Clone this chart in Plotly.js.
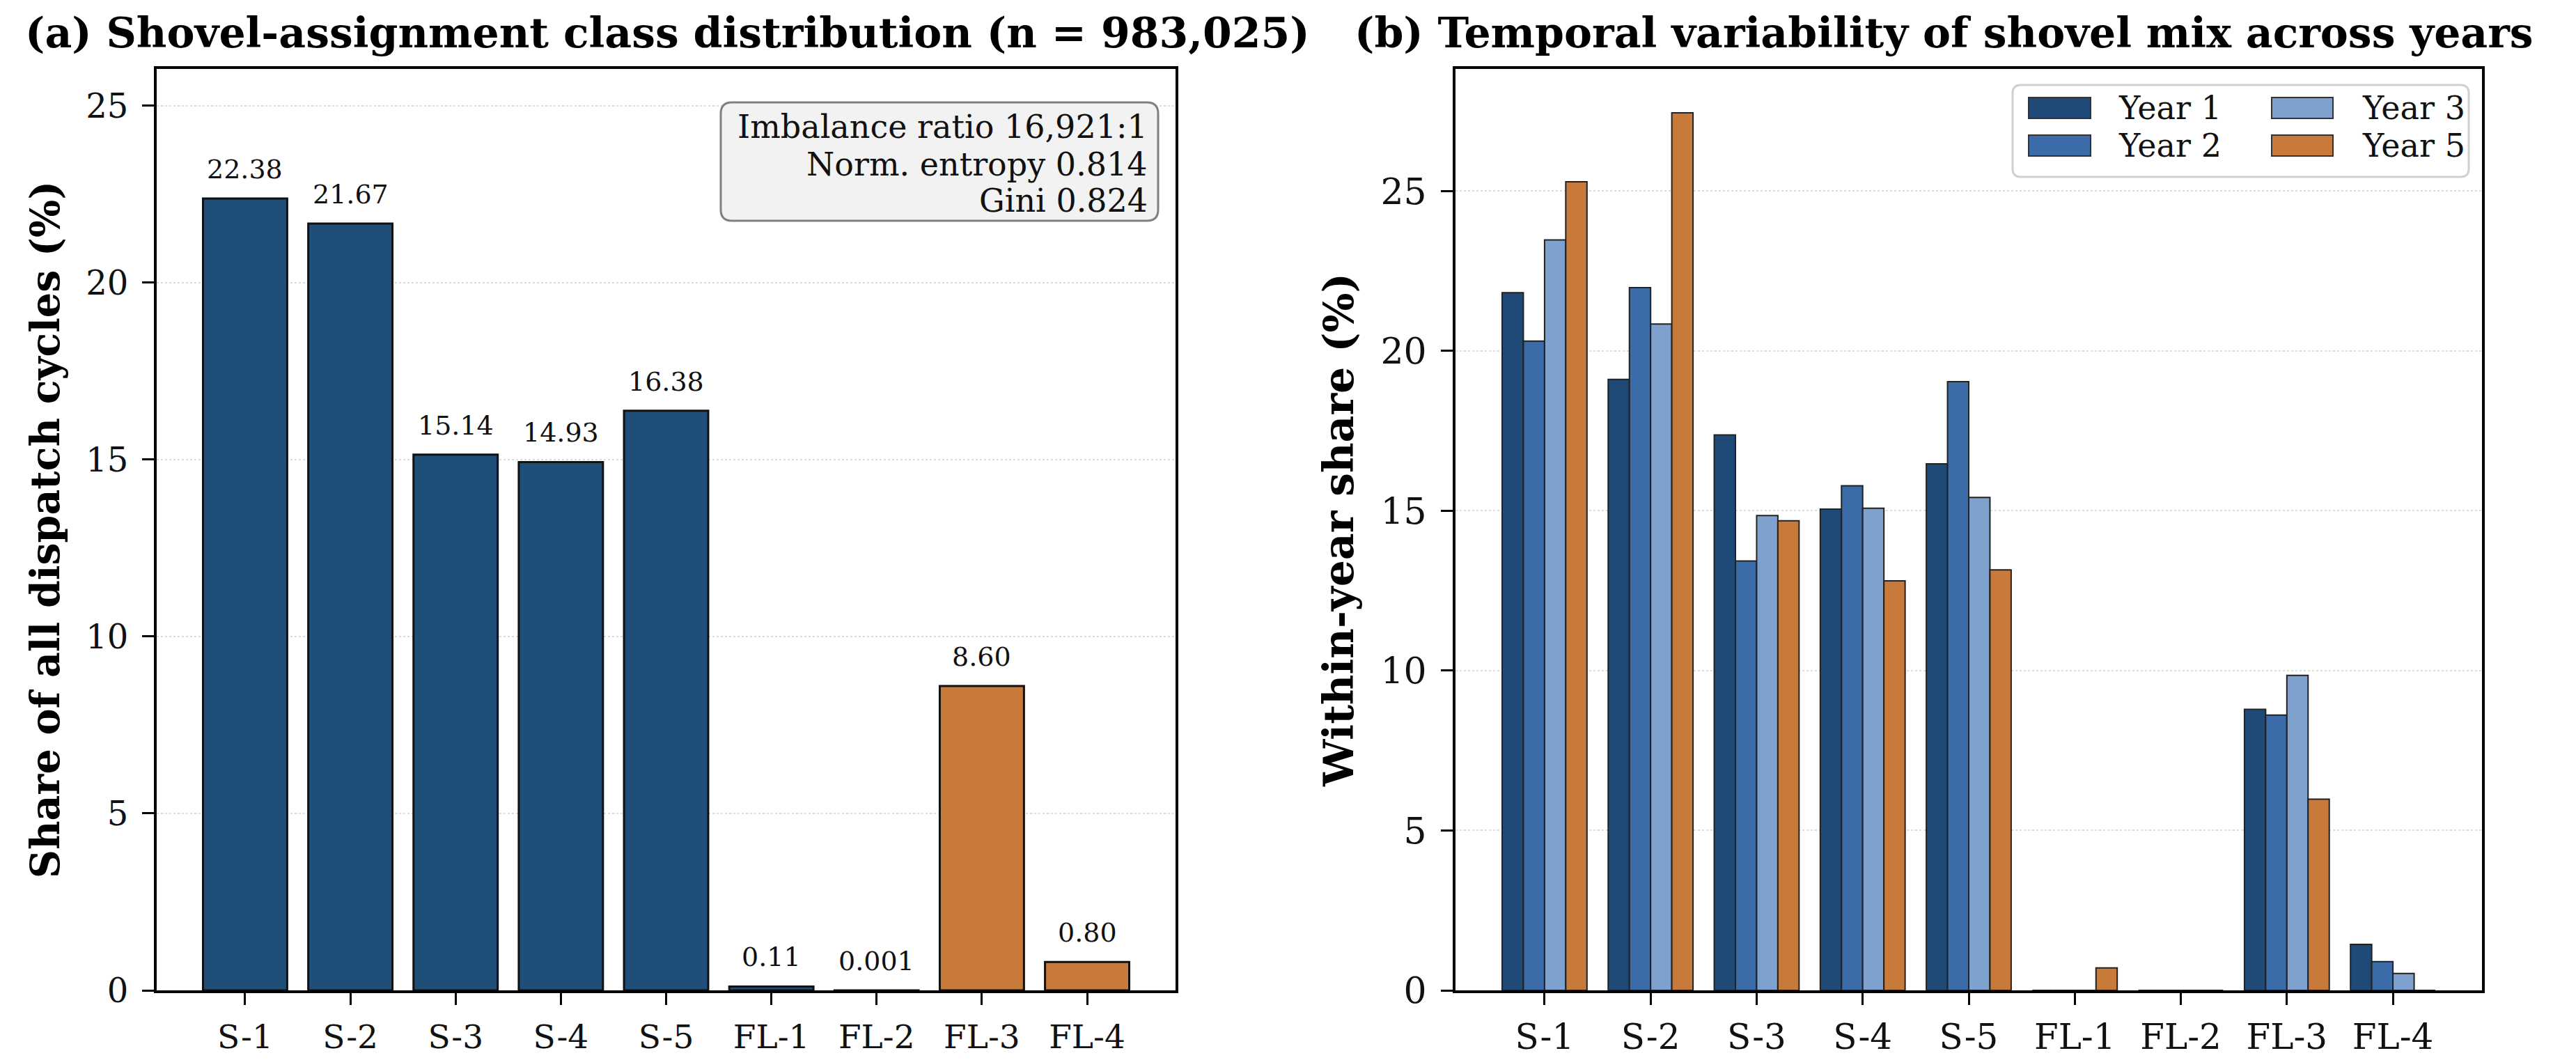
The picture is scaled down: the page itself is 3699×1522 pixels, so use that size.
<!DOCTYPE html>
<html>
<head>
<meta charset="utf-8">
<script src="https://cdn.plot.ly/plotly-3.0.1.min.js"></script>
<style>html,body{margin:0;padding:0;background:#fff;}#chart{width:3699px;height:1522px;}</style>
</head>
<body>
<div id="chart"></div>
<script>
// ---------- data ----------
const categories = ['S-1','S-2','S-3','S-4','S-5','FL-1','FL-2','FL-3','FL-4'];
const overallShare = [22.38, 21.67, 15.14, 14.93, 16.38, 0.11, 0.001, 8.60, 0.80];
const overallLabels = ['22.38','21.67','15.14','14.93','16.38','0.11','0.001','8.60','0.80'];
const highlightedClasses = ['FL-3','FL-4'];
const yearNames = ['Year 1','Year 2','Year 3','Year 5'];
const year1 = [21.82, 19.11, 17.37, 15.05, 16.47, 0, 0, 8.79, 1.44];
const year2 = [20.31, 21.98, 13.43, 15.78, 19.04, 0, 0, 8.61, 0.90];
const year3 = [23.47, 20.84, 14.85, 15.08, 15.42, 0, 0, 9.85, 0.53];
const year5 = [25.29, 27.45, 14.69, 12.81, 13.15, 0.70, 0, 5.98, 0];
const statsLines = ['Imbalance ratio 16,921:1', 'Norm. entropy 0.814', 'Gini 0.824'];
const yTicks = [0, 5, 10, 15, 20, 25];
const titleA = '(a) Shovel-assignment class distribution (n = 983,025)';
const titleB = '(b) Temporal variability of shovel mix across years';
const yTitleA = 'Share of all dispatch cycles (%)';
const yTitleB = 'Within-year share (%)';

// ---------- style ----------
const W = 3699, H = 1522;
const FONT = 'DejaVu Serif';
const NAVY = '#1f4e79', ORANGE = '#c87a3a';
const yearColors = ['#1f4a78', '#3b6ba8', '#7ea2cd', '#c87a3a'];
const px = x => x / W;
const py = y => 1 - y / H;

function roundRect(x0, y0, x1, y1, r) {
  const rx = r / W, ry = r / H;
  const X0 = px(x0), X1 = px(x1), Y0 = py(y0), Y1 = py(y1);
  return `M ${X0 + rx},${Y0} L ${X1 - rx},${Y0} Q ${X1},${Y0} ${X1},${Y0 - ry} ` +
         `L ${X1},${Y1 + ry} Q ${X1},${Y1} ${X1 - rx},${Y1} L ${X0 + rx},${Y1} ` +
         `Q ${X0},${Y1} ${X0},${Y1 + ry} L ${X0},${Y0 - ry} Q ${X0},${Y0} ${X0 + rx},${Y0} Z`;
}

const traces = [];
traces.push({
  type: 'bar', x: categories, y: overallShare, xaxis: 'x', yaxis: 'y',
  marker: { color: categories.map(c => highlightedClasses.includes(c) ? ORANGE : NAVY),
            line: { color: '#111', width: 3 } },
  showlegend: false, hoverinfo: 'x+y'
});
const yearSeries = [year1, year2, year3, year5];
yearSeries.forEach((vals, i) => {
  traces.push({
    type: 'bar', name: yearNames[i], x: categories, y: vals, xaxis: 'x2', yaxis: 'y2',
    marker: { color: yearColors[i], line: { color: '#222', width: 2 } },
    showlegend: false
  });
});

const annotations = [];
annotations.push({ text: '<b>' + titleA + '</b>', xref: 'paper', yref: 'paper', x: px(958), y: py(47),
  xanchor: 'center', yanchor: 'middle', showarrow: false, font: { family: FONT, size: 60, color: '#000' } });
annotations.push({ text: '<b>' + titleB + '</b>', xref: 'paper', yref: 'paper', x: px(2791), y: py(47),
  xanchor: 'center', yanchor: 'middle', showarrow: false, font: { family: FONT, size: 60, color: '#000' } });
categories.forEach((c, i) => {
  annotations.push({ text: overallLabels[i], x: c, y: overallShare[i], xref: 'x', yref: 'y',
    xanchor: 'center', yanchor: 'middle', yshift: 42, showarrow: false,
    font: { family: FONT, size: 38, color: '#111' } });
});
const statsY = [182, 236, 288];
statsLines.forEach((s, i) => {
  annotations.push({ text: s, xref: 'paper', yref: 'paper', x: px(1650), y: py(statsY[i]),
    xanchor: 'right', yanchor: 'middle', showarrow: false,
    font: { family: FONT, size: 46, color: '#111' } });
});

const shapes = [];
shapes.push({ type: 'path', xref: 'paper', yref: 'paper', path: roundRect(1035, 147, 1663, 317, 16),
  fillcolor: '#f2f2f2', line: { color: '#808080', width: 3 } });
shapes.push({ type: 'path', xref: 'paper', yref: 'paper', path: roundRect(2890, 122, 3545, 254, 12),
  fillcolor: 'rgba(255,255,255,0.9)', line: { color: '#d0d0d0', width: 3 } });
const legCols = [[2913, 3002, 3040], [3262, 3350, 3390]];
const legRows = [155, 209];
yearNames.forEach((n, i) => {
  const col = legCols[Math.floor(i / 2)], row = legRows[i % 2];
  shapes.push({ type: 'rect', xref: 'paper', yref: 'paper', x0: px(col[0]), x1: px(col[1]),
    y0: py(row + 15), y1: py(row - 15), fillcolor: yearColors[i], line: { color: '#333', width: 2 } });
  annotations.push({ text: n, xref: 'paper', yref: 'paper', x: px(col[2]), y: py(row),
    xanchor: 'left', yanchor: 'middle', showarrow: false, font: { family: FONT, size: 46, color: '#111' } });
});

function axisBase(size) {
  return {
    showline: true, linecolor: '#000', linewidth: 4, mirror: true,
    ticks: 'outside', ticklen: 17, tickwidth: 3, tickcolor: '#000',
    tickfont: { family: FONT, size: size, color: '#111' }, zeroline: false
  };
}
function xAxis(size, dom, anchor, standoff) {
  return Object.assign(axisBase(size), { type: 'category', range: [-0.84, 8.84], showgrid: false,
    ticklabelstandoff: standoff, domain: dom, anchor: anchor });
}
function yAxis(size, range, anchor, title, tsize) {
  return Object.assign(axisBase(size), { tickvals: yTicks, showgrid: true, gridcolor: '#dcdcdc',
    gridwidth: 2, griddash: 'dot', ticklabelstandoff: 10, domain: [py(1422), py(99)], range: range,
    anchor: anchor, title: { text: '<b>' + title + '</b>', font: { family: FONT, size: tsize, color: '#000' }, standoff: 20 } });
}

const layout = {
  width: W, height: H, autosize: false,
  margin: { l: 0, r: 0, t: 0, b: 0 },
  paper_bgcolor: '#fff', plot_bgcolor: '#fff',
  barmode: 'group', bargap: 0.2, bargroupgap: 0,
  showlegend: false,
  xaxis: xAxis(47, [px(225), px(1688)], 'y', 6),
  yaxis: yAxis(48, [0, 26.04], 'x', yTitleA, 57),
  xaxis2: xAxis(50, [px(2090), px(3564)], 'y2', 3),
  yaxis2: yAxis(52, [0, 28.82], 'x2', yTitleB, 60),
  annotations: annotations,
  shapes: shapes,
  font: { family: FONT }
};

Plotly.newPlot('chart', traces, layout, { staticPlot: true, displayModeBar: false });
</script>
</body>
</html>
